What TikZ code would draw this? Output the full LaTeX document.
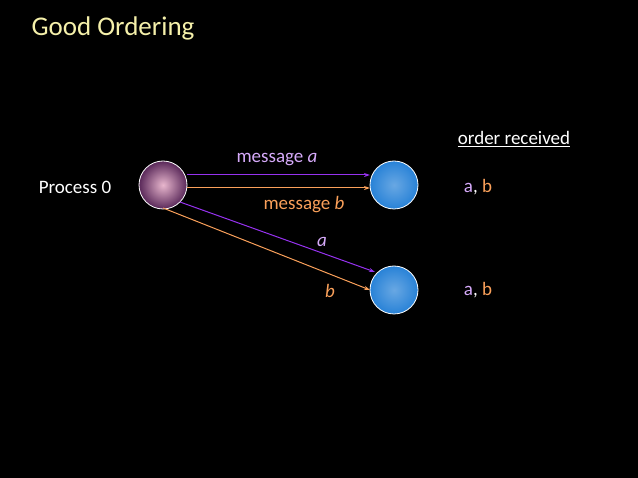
\documentclass[tikz,border=0pt]{standalone}
\usepackage{fontspec}
\setmainfont{Carlito}
\usetikzlibrary{arrows.meta}
\definecolor{lav}{RGB}{214,170,250}
\definecolor{org}{RGB}{250,160,90}
\definecolor{pur}{RGB}{150,50,240}
\definecolor{ttl}{RGB}{245,240,170}
\definecolor{blu}{RGB}{40,130,215}
\begin{document}
\begin{tikzpicture}[x=1pt,y=-1pt,
  proc/.style={circle,draw=white,line width=0.8pt,minimum size=48pt,inner sep=0pt},
  msg/.style={line width=1pt,-{Stealth[length=6pt,width=4pt]}},
  lbl/.style={font=\fontsize{19}{21}\selectfont}]
\fill[black] (0,0) rectangle (638,478);
\useasboundingbox (0,0) rectangle (638,478);
\node[lbl,text=ttl,font=\fontsize{27}{30}\selectfont] (t) at (113,28) {Good Ordering};
\node[proc,inner color=violet!30!pink!60!white,outer color=violet!55!gray!70!black] (p0) at (163,185) {};
\node[proc,inner color=blu!70!white,outer color=blu] (r1) at (394,185) {};
\node[proc,inner color=blu!70!white,outer color=blu] (r2) at (394,290) {};
\coordinate (a1) at (187,175); \coordinate (a2) at (370,175);
\coordinate (b1) at (187,188); \coordinate (b2) at (370,188);
\coordinate (c1) at (180,202); \coordinate (c2) at (375,272);
\coordinate (d1) at (163,208); \coordinate (d2) at (370,290);
\draw[msg,pur] (a1) -- (a2);
\draw[msg,org] (b1) -- (b2);
\draw[msg,pur] (c1) -- (c2);
\draw[msg,org] (d1) -- (d2);
\node[lbl,text=white] (pl) at (75,187) {Process 0};
\node[lbl,text=lav] (ma) at (277,160) {message \textit{a}};
\node[lbl,text=org] (mb) at (304,205) {message \textit{b}};
\node[lbl,text=lav] (la) at (322,242) {\textit{a}};
\node[lbl,text=org] (lb) at (330,291) {\textit{b}};
\node[lbl,text=white] (or) at (514,139) {\underline{order received}};
\node[lbl,text=white] (o1) at (478,187) {\textcolor{lav}{a}, \textcolor{org}{b}};
\node[lbl,text=white] (o2) at (478,290) {\textcolor{lav}{a}, \textcolor{org}{b}};
\end{tikzpicture}
\end{document}
